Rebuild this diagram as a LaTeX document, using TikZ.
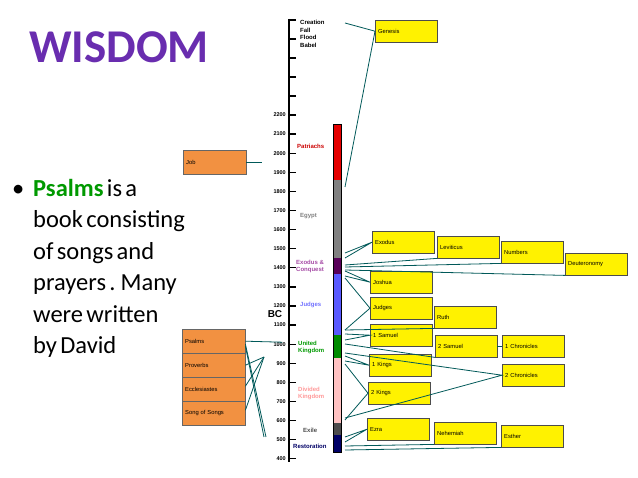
\documentclass[tikz,border=0pt]{standalone}
\usepackage{fontspec}
\setmainfont{Liberation Sans}
\newfontfamily\calfont{Carlito}
\definecolor{ttl}{RGB}{105,45,175}
\definecolor{org}{RGB}{242,145,65}
\begin{document}
\begin{tikzpicture}[x=1pt,y=-1pt,
  yb/.style={draw=black!70,fill=yellow,minimum width=62pt,minimum height=22pt,anchor=north west,inner sep=2pt,font=\fontsize{5.8}{6}\selectfont,text width=56pt,align=left},
  ob/.style={draw=black!60,fill=org,minimum width=63pt,minimum height=24pt,anchor=north west,inner sep=2pt,font=\fontsize{5.8}{6}\selectfont,text width=57pt,align=left},
  ln/.style={draw=teal!70!black,line width=0.8pt},
  per/.style={font=\bfseries\fontsize{6}{7}\selectfont,align=left,anchor=west,inner sep=0pt},
  yr/.style={font=\bfseries\fontsize{5.5}{5}\selectfont,anchor=east,inner sep=0pt}]
\fill[white] (0,0) rectangle (638,478);
\node[anchor=west,inner sep=0pt,text=ttl] (title) at (29,47) {\calfont\bfseries\fontsize{47}{47}\selectfont WISDOM};
\node[anchor=north west,inner sep=0pt,text width=200pt,align=left] (txt) at (12,179)
 {\calfont\fontsize{24.5}{31.5}\selectfont \makebox[21pt][l]{•}{\bfseries\color{green!60!black}Psalms} is a\\
 \hspace*{21pt}book consisting\\ \hspace*{21pt}of songs and\\ \hspace*{21pt}prayers . Many\\ \hspace*{21pt}were written\\ \hspace*{21pt}by David\par};
% axis
\draw[line width=1.5pt] (289,19) -- (289,462);
\foreach \y in {20,39,58,77,96} \draw[line width=1.3pt] (289,\y) -- (296,\y);
\foreach \v [count=\i from 0] in {2200,2100,2000,1900,1800,1700,1600,1500,1400,1300,1200,1100,1000,900,800,700,600,500,400}{
  \pgfmathsetmacro\yy{115+\i*19.1}
  \draw[line width=1.3pt] (289,\yy) -- (296,\yy);
  \node[yr] at (286,\yy) {\v};}
\node[font=\bfseries\fontsize{10}{10}\selectfont,inner sep=0pt] (bc) at (275,314) {BC};
% bar
\fill[red!90!black] (333,125) rectangle (341,180);
\fill[gray] (333,180) rectangle (341,258);
\fill[violet!70!black] (333,258) rectangle (341,274);
\fill[blue!65!white] (333,274) rectangle (341,335);
\fill[green!55!black] (333,335) rectangle (341,358);
\fill[pink!80!red!60] (333,358) rectangle (341,423);
\fill[black!70] (333,423) rectangle (341,435);
\fill[blue!40!black] (333,435) rectangle (341,453);
\draw[line width=1pt] (333,125) rectangle (341,453);
% period labels
\node[per,font=\bfseries\fontsize{6}{7.6}\selectfont] (cr) at (300,34) {Creation\\Fall\\Flood\\Babel};
\node[per,text=red!80!black] (pa) at (297,146) {Patriachs};
\node[per,text=gray] (eg) at (300,216) {Egypt};
\node[per,text=violet!70] (ex) at (296,266) {Exodus \&\\Conquest};
\node[per,text=blue!55] (ju) at (300,305) {Judges};
\node[per,text=green!60!black] (uk) at (298,347) {United\\Kingdom};
\node[per,text=pink!80!red] (dk) at (298,393) {Divided\\Kingdom};
\node[per,text=black!70] (exi) at (303,430) {Exile};
\node[per,text=blue!40!black] (re) at (293,446) {Restoration};
% yellow boxes
\node[yb] (gen) at (375,20) {Genesis};
\node[yb] (exo) at (372,231) {Exodus};
\node[yb] (lev) at (437,236) {Leviticus};
\node[yb] (num) at (501,241) {Numbers};
\node[yb] (deu) at (565,253) {Deuteronomy};
\node[yb] (jos) at (370,271) {Joshua};
\node[yb] (jdg) at (370,297) {Judges};
\node[yb] (rut) at (434,306) {Ruth};
\node[yb] (sa1) at (370,324) {1 Samuel};
\node[yb] (sa2) at (435,335) {2 Samuel};
\node[yb] (ch1) at (502,335) {1 Chronicles};
\node[yb] (ki1) at (369,354) {1 Kings};
\node[yb] (ch2) at (502,364) {2 Chronicles};
\node[yb] (ki2) at (368,382) {2 Kings};
\node[yb] (ezr) at (367,418) {Ezra};
\node[yb] (neh) at (434,422) {Nehemiah};
\node[yb] (est) at (501,425) {Esther};
% orange
\node[ob] (job) at (183,150) {Job};
\node[ob] (psa) at (182,329) {Psalms};
\node[ob] (pro) at (182,353) {Proverbs};
\node[ob] (ecc) at (182,377) {Ecclesiastes};
\node[ob] (son) at (182,401) {Song of Songs};
% connectors
\coordinate (a1) at (345,23); \coordinate (a2) at (345,187);
\draw[ln] (a1) -- (gen.west) -- (a2);
\draw[ln] (job.east) -- ++(16,0);
\draw[ln] (345,253) -- (exo.west) -- (345,258);
\draw[ln] (345,265) -- (lev.south west);
\draw[ln] (345,267) -- (num.south west);
\draw[ln] (345,270) -- (deu.south west);
\draw[ln] (345,271) -- (jos.west) -- (345,276);
\draw[ln] (345,278) -- (jdg.west) -- (345,330);
\draw[ln] (345,330) -- (rut.south west);
\draw[ln] (345,334) -- (sa1.west) -- (345,340);
\draw[ln] (345,344) -- (sa2.south west);
\draw[ln] (sa2.east) -- (ch1.west);
\draw[ln] (345,356) -- (ki1.west) -- (345,361);
\draw[ln] (345,353) -- (ch2.west) -- (345,418);
\draw[ln] (345,364) -- (ki2.west) -- (345,420);
\draw[ln] (345,437) -- (ezr.west) -- (345,442);
\draw[ln] (345,446) -- (neh.south west);
\draw[ln] (345,450) -- (est.south west);
\draw[ln] (psa.east) -- ++(37,1);
\coordinate (w1) at (266,437); \coordinate (w2) at (264,357);
\draw[ln] ([yshift=-3pt]psa.east) -- (w1);
\draw[ln] ([yshift=-5pt]psa.east) -- ([xshift=-2pt]w1);
\draw[ln] (w2) -- (pro.east);
\draw[ln] (w2) -- ([yshift=3pt]ecc.east);
\draw[ln] (w2) -- ([yshift=3pt]son.east);
\end{tikzpicture}
\end{document}
